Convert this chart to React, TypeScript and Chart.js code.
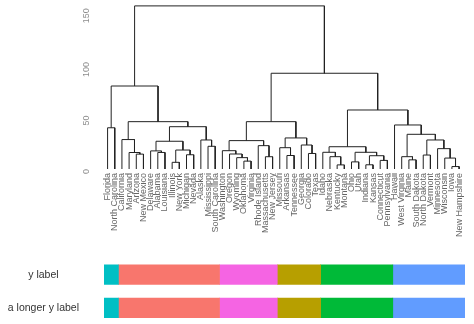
import React, { useEffect, useRef } from 'react';
import { Chart, registerables } from 'chart.js';

Chart.register(...registerables);

// Leaf labels in dendrogram order
const states = [
  'Florida', 'North Carolina', 'California', 'Maryland', 'Arizona', 'New Mexico',
  'Delaware', 'Alabama', 'Louisiana', 'Illinois', 'New York', 'Michigan', 'Nevada',
  'Alaska', 'Mississippi', 'South Carolina', 'Washington', 'Oregon', 'Wyoming',
  'Oklahoma', 'Virginia', 'Rhode Island', 'Massachusetts', 'New Jersey', 'Missouri',
  'Arkansas', 'Tennessee', 'Georgia', 'Colorado', 'Texas', 'Idaho', 'Nebraska',
  'Kentucky', 'Montana', 'Ohio', 'Utah', 'Indiana', 'Kansas', 'Connecticut',
  'Pennsylvania', 'Hawaii', 'West Virginia', 'Maine', 'South Dakota', 'North Dakota',
  'Vermont', 'Minnesota', 'Wisconsin', 'Iowa', 'New Hampshire',
];

// hclust-style merges: negative = leaf (1-based position in states), positive = earlier merge step (1-based)
const mergePairs: [number, number][] = [
  [-49, -50], [-33, -34], [-37, -38], [-10, -11], [-35, -36], [-20, -21], [-39, -40],
  [-43, -44], [-48, 1], [-19, 6], [-23, -24], [-32, 2], [-42, 8], [3, 7], [-26, -27],
  [-45, -46], [-12, -13], [-5, -6], [-18, 10], [-29, -30], [-8, -9], [-4, 18], [-31, 12],
  [5, 14], [-7, 21], [-17, 19], [4, 17], [-47, 9], [-25, 15], [-15, -16], [23, 24],
  [-22, 11], [-28, 20], [25, 27], [-14, 30], [26, 32], [16, 28], [-3, 22], [29, 33],
  [13, 37], [-1, -2], [34, 35], [-41, 40], [38, 42], [36, 39], [31, 43], [41, 44],
  [45, 46], [47, 48],
];

const mergeHeights = [
  2.29, 3.83, 3.93, 6.24, 6.64, 7.36, 8.03,
  8.54, 10.2, 10.6, 11.46, 11.5, 11.5, 12.4, 12.6,
  13.04, 13.3, 13.9, 14.0, 14.5, 15.45, 15.4, 15.6,
  15.6, 16.9, 17.1, 17.7, 19.0, 19.9, 21.2, 20.8,
  21.8, 22.4, 25.9, 27.1, 26.5, 27.1, 27.5, 29.0,
  32.4, 38.5, 39.5, 41.1, 44.2, 44.2, 55.1, 77.5,
  89.4, 152.3,
];

const yTicks = [0, 50, 100, 150];

const rowLabels = ['y label', 'a longer y label'];
const clusterSizes = [2, 14, 8, 6, 10, 10];
const clusterColors = ['#00BFC4', '#F8766D', '#F564E3', '#B79F00', '#00BA38', '#619CFF'];

function buildSegments() {
  const nodeX: number[] = [];
  const nodeY: number[] = [];
  const pos = (ref: number) =>
    ref < 0 ? { x: -ref - 1, y: 0 } : { x: nodeX[ref - 1], y: nodeY[ref - 1] };
  return mergePairs.map(([a, b], i) => {
    const pa = pos(a);
    const pb = pos(b);
    const h = mergeHeights[i];
    nodeX[i] = (pa.x + pb.x) / 2;
    nodeY[i] = h;
    return [
      { x: pa.x, y: pa.y },
      { x: pa.x, y: h },
      { x: pb.x, y: h },
      { x: pb.x, y: pb.y },
    ];
  });
}

const FONT = 'Liberation Sans, Arial, sans-serif';

export default function App() {
  const topRef = useRef<HTMLCanvasElement | null>(null);
  const botRef = useRef<HTMLCanvasElement | null>(null);

  useEffect(() => {
    const segs = buildSegments();
    const dendro = new Chart(topRef.current as HTMLCanvasElement, {
      type: 'scatter',
      data: {
        datasets: segs.map((pts) => ({
          data: pts,
          showLine: true,
          borderColor: '#222222',
          borderWidth: 1,
          pointRadius: 0,
          pointHoverRadius: 0,
          tension: 0,
          fill: false,
          clip: false as any,
        })),
      },
      options: {
        animation: false,
        responsive: false,
        maintainAspectRatio: false,
        events: [],
        layout: { padding: { top: 6, right: 9, left: 0, bottom: 0 } },
        plugins: { legend: { display: false }, tooltip: { enabled: false } },
        scales: {
          x: {
            type: 'linear',
            min: -0.5,
            max: states.length - 0.5,
            grid: { display: false, drawTicks: false },
            border: { display: false },
            afterBuildTicks: (s: any) => {
              s.ticks = states.map((_, i) => ({ value: i }));
            },
            afterFit: (s: any) => {
              s.height = 81;
            },
            ticks: {
              autoSkip: false,
              minRotation: 90,
              maxRotation: 90,
              padding: 4,
              color: '#666666',
              font: { family: FONT, size: 9 },
              callback: (v: any) => states[Math.round(Number(v))],
            },
          },
          y: {
            type: 'linear',
            min: 0,
            max: 152.2,
            grid: { display: false, drawTicks: true, tickLength: 17 },
            border: { display: false },
            afterBuildTicks: (s: any) => {
              s.ticks = yTicks.map((v) => ({ value: v }));
            },
            afterFit: (s: any) => {
              s.width = 104;
            },
            ticks: {
              minRotation: 90,
              maxRotation: 90,
              padding: 0,
              color: '#8c8c8c',
              font: { family: FONT, size: 9 },
            },
          },
        },
      } as any,
    });

    const bars = new Chart(botRef.current as HTMLCanvasElement, {
      type: 'bar',
      data: {
        labels: rowLabels,
        datasets: clusterSizes.map((n, k) => ({
          data: rowLabels.map(() => n),
          backgroundColor: clusterColors[k],
          borderWidth: 0,
          barThickness: 19.5,
        })),
      },
      options: {
        indexAxis: 'y',
        animation: false,
        responsive: false,
        maintainAspectRatio: false,
        events: [],
        layout: { padding: { top: 8, right: 9, left: 0, bottom: 15.4 } },
        plugins: { legend: { display: false }, tooltip: { enabled: false } },
        scales: {
          x: { stacked: true, min: 0, max: states.length, display: false },
          y: {
            stacked: true,
            grid: { display: false, drawTicks: true, tickLength: 25 },
            border: { display: false },
            afterFit: (s: any) => {
              s.width = 104;
            },
            ticks: {
              crossAlign: 'center',
              padding: 0,
              color: '#333333',
              font: { family: FONT, size: 10.5 },
            },
          },
        },
      } as any,
    });

    return () => {
      dendro.destroy();
      bars.destroy();
    };
  }, []);

  return (
    <div
      style={{
        position: 'fixed',
        left: 0,
        top: 0,
        width: 474,
        height: 324,
        overflow: 'hidden',
        background: '#ffffff',
      }}
    >
      <canvas ref={topRef} width={474} height={250} style={{ position: 'absolute', left: 0, top: 0, display: 'block' }} />
      <canvas ref={botRef} width={474} height={90} style={{ position: 'absolute', left: 0, top: 250, display: 'block' }} />
    </div>
  );
}
